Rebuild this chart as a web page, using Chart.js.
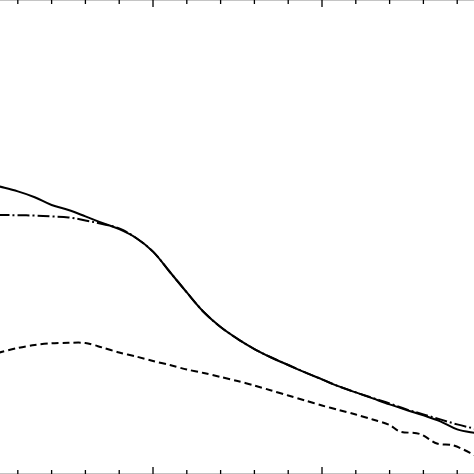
<!DOCTYPE html>
<html>
<head>
<meta charset="utf-8">
<script src="https://cdn.jsdelivr.net/npm/chart.js@4/dist/chart.umd.min.js"></script>
<style>
  html, body { margin: 0; padding: 0; background: #fff; }
  #wrap { width: 474px; height: 474px; }
</style>
</head>
<body>
<div id="wrap"><canvas id="c" width="474" height="474"></canvas></div>
<script>
// ---- data ----
const xValues = [0.4, 1, 1.5, 2, 2.5, 3, 3.5, 4, 4.5, 5, 5.5, 6, 6.5, 7, 7.5, 8, 8.5, 9, 9.5, 10, 10.5, 11, 11.5, 12, 12.5, 13, 13.5, 14, 14.6];
const solidValues = [1.44, 1.413, 1.384, 1.345, 1.32, 1.288, 1.255, 1.224, 1.18, 1.112, 1.01, 0.908, 0.81, 0.735, 0.676, 0.625, 0.5825, 0.545, 0.508, 0.473, 0.438, 0.408, 0.378, 0.348, 0.32, 0.293, 0.263, 0.223, 0.203];
const dashDotValues = [1.295, 1.294, 1.292, 1.288, 1.283, 1.268, 1.25, 1.228, 1.18, 1.112, 1.01, 0.908, 0.81, 0.735, 0.676, 0.625, 0.5825, 0.545, 0.508, 0.473, 0.438, 0.408, 0.38, 0.3525, 0.323, 0.298, 0.273, 0.248, 0.223];
const dashedX = [0.4, 1, 1.5, 2, 2.5, 3, 3.5, 4, 4.5, 5, 5.5, 6, 6.5, 7, 7.5, 8, 8.5, 9, 9.5, 10, 10.5, 11, 11.5, 12, 12.3, 12.9, 13.4, 13.9, 14.6];
const dashedValues = [0.605, 0.63, 0.645, 0.6535, 0.656, 0.655, 0.6325, 0.6075, 0.5875, 0.565, 0.545, 0.5225, 0.505, 0.485, 0.465, 0.4425, 0.4175, 0.3925, 0.3675, 0.3425, 0.32, 0.2975, 0.2725, 0.245, 0.2125, 0.2, 0.1525, 0.1425, 0.0875];
const xMinorTicks = [1, 2, 3, 4, 5, 6, 7, 8, 9, 10, 11, 12, 13, 14];
const xMajorTicks = [5, 10];
const xRange = [0.473, 14.497];
const yRange = [0, 2.37];

function pairs(xs, ys) { return xs.map((x, i) => ({ x: x, y: ys[i] })); }

const frameTicks = {
  id: 'frameTicks',
  afterDraw(chart) {
    const ctx = chart.ctx, a = chart.chartArea, xs = chart.scales.x;
    ctx.save();
    ctx.strokeStyle = '#c4c4c4';
    ctx.lineWidth = 1;
    ctx.beginPath();
    ctx.moveTo(a.left, a.top + 0.5); ctx.lineTo(a.right, a.top + 0.5);
    ctx.moveTo(a.left, a.bottom - 0.5); ctx.lineTo(a.right, a.bottom - 0.5);
    ctx.stroke();
    ctx.strokeStyle = '#000';
    ctx.lineWidth = 1.3;
    ctx.beginPath();
    xMinorTicks.forEach(v => {
      const px = xs.getPixelForValue(v);
      const len = xMajorTicks.includes(v) ? 7 : 4;
      ctx.moveTo(px, a.top); ctx.lineTo(px, a.top + len);
      ctx.moveTo(px, a.bottom); ctx.lineTo(px, a.bottom - len);
    });
    ctx.stroke();
    ctx.restore();
  }
};

new Chart(document.getElementById('c'), {
  type: 'line',
  data: {
    datasets: [
      { data: pairs(xValues, dashDotValues), borderColor: '#000', borderWidth: 2, borderDash: [12, 3, 2, 3], pointRadius: 0, tension: 0.35, fill: false },
      { data: pairs(dashedX, dashedValues), borderColor: '#000', borderWidth: 2, borderDash: [7, 4], pointRadius: 0, tension: 0.3, fill: false },
      { data: pairs(xValues, solidValues), borderColor: '#000', borderWidth: 2, pointRadius: 0, tension: 0.35, fill: false }
    ]
  },
  options: {
    responsive: false,
    animation: false,
    devicePixelRatio: 1,
    layout: { padding: 0 },
    plugins: { legend: { display: false }, tooltip: { enabled: false } },
    scales: {
      x: { type: 'linear', min: xRange[0], max: xRange[1], display: false },
      y: { type: 'linear', min: yRange[0], max: yRange[1], display: false }
    }
  },
  plugins: [frameTicks]
});
</script>
</body>
</html>
